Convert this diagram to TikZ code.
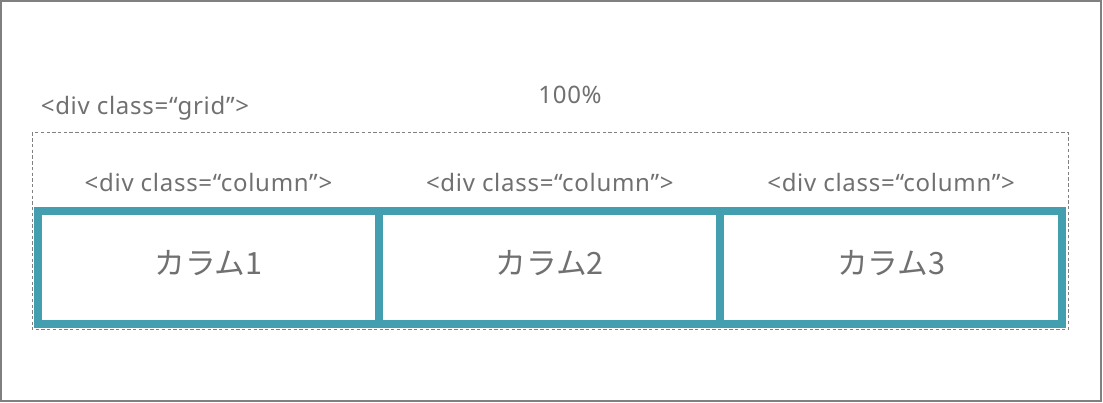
\documentclass[tikz,border=0pt]{standalone}
\usepackage{fontspec}
\setmainfont[LetterSpace=3]{Noto Sans}
\newfontfamily\jpfont{Noto Sans CJK JP}
\usepackage{tikz}
\definecolor{colonna}{HTML}{439FAF}
\definecolor{testo}{HTML}{707070}
\definecolor{bordo}{HTML}{808080}

\begin{document}
\begin{tikzpicture}[x=0.75pt,y=-0.75pt,
	etichetta/.style={text=testo,inner sep=0pt,font=\fontsize{18}{21}\selectfont},
	colonna/.style={draw=colonna,line width=6pt,minimum width=256pt,minimum height=84.75pt,
		inner sep=0pt,outer sep=0pt},
	nome/.style={text=testo,inner sep=0pt,font=\jpfont\fontsize{23}{27}\selectfont}]
	\useasboundingbox (0,0) rectangle (1103,403);
	%cornice
	\draw [bordo, line width=1.5pt] (1,1) rectangle (1101,401);
	%griglia
	\draw [bordo, line width=0.75pt, dash pattern=on 2.5pt off 1.8pt] (32,132.5) rectangle (1068,329.5);
	\node [etichetta] (grid) at (145,108) {<div class=“grid”>};
	\node [etichetta] (larghezza) at (570,95) {100\%};
	%colonne
	\node [colonna] (col1) at (208.5,267.5) {};
	\node [colonna] (col2) at (549.8,267.5) {};
	\node [colonna] (col3) at (891.1,267.5) {};
	\node [nome] at ([yshift=3pt]col1) {カラム1};
	\node [nome] at ([yshift=3pt]col2) {カラム2};
	\node [nome] at ([yshift=3pt]col3) {カラム3};
	\node [etichetta] (div1) at (208.5,182) {<div class=“column”>};
	\node [etichetta] (div2) at (549.8,182) {<div class=“column”>};
	\node [etichetta] (div3) at (891.1,182) {<div class=“column”>};
\end{tikzpicture}
\end{document}
